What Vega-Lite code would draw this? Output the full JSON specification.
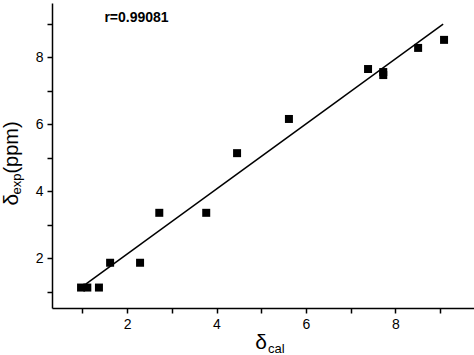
{
  "$schema": "https://vega.github.io/schema/vega-lite/v6.json",
  "width": 422,
  "height": 305,
  "autosize": {"type": "none"},
  "padding": {"left": 52, "top": 3, "right": 0, "bottom": 47},
  "background": "white",
  "config": {
    "view": {"stroke": null},
    "axis": {
      "domainColor": "black",
      "tickColor": "black",
      "labelColor": "black",
      "grid": false,
      "labelFont": "Liberation Sans",
      "labelFontSize": 14,
      "domainWidth": 1.5,
      "tickWidth": 1.5,
      "tickSize": 5,
      "labelPadding": 4,
      "labelFlush": false,
      "labelOverlap": false,
      "values": [1, 2, 3, 4, 5, 6, 7, 8, 9],
      "labelExpr": "datum.value == 2 || datum.value == 4 || datum.value == 6 || datum.value == 8 ? datum.label : ''",
      "title": null
    },
    "text": {"font": "Liberation Sans", "color": "black"}
  },
  "datasets": {
    "points": [
      {"cal": 0.97, "exp": 1.13},
      {"cal": 1.11, "exp": 1.13},
      {"cal": 1.37, "exp": 1.13},
      {"cal": 1.62, "exp": 1.87},
      {"cal": 2.29, "exp": 1.87},
      {"cal": 2.72, "exp": 3.36},
      {"cal": 3.77, "exp": 3.36},
      {"cal": 4.46, "exp": 5.14},
      {"cal": 5.62, "exp": 6.16},
      {"cal": 7.39, "exp": 7.65},
      {"cal": 7.73, "exp": 7.56},
      {"cal": 7.73, "exp": 7.47},
      {"cal": 8.51, "exp": 8.28},
      {"cal": 9.09, "exp": 8.52}
    ],
    "fit": [
      {"cal": 1.06, "exp": 1.22},
      {"cal": 9.07, "exp": 8.99}
    ]
  },
  "layer": [
    {
      "data": {"name": "fit"},
      "mark": {"type": "line", "color": "black", "strokeWidth": 1.5},
      "encoding": {
        "x": {
          "field": "cal",
          "type": "quantitative",
          "scale": {"domain": [0.32, 9.76], "nice": false, "zero": false}
        },
        "y": {
          "field": "exp",
          "type": "quantitative",
          "scale": {"domain": [0.52, 9.62], "nice": false, "zero": false}
        }
      }
    },
    {
      "data": {"name": "points"},
      "mark": {"type": "square", "size": 64, "color": "black", "opacity": 1},
      "encoding": {
        "x": {"field": "cal", "type": "quantitative"},
        "y": {"field": "exp", "type": "quantitative"}
      }
    },
    {
      "data": {"values": [{"label": "r=0.99081"}]},
      "mark": {"type": "text", "fontWeight": "bold", "fontSize": 14, "align": "center", "baseline": "middle"},
      "encoding": {
        "text": {"field": "label"},
        "x": {"datum": 2.21, "type": "quantitative"},
        "y": {"datum": 9.17, "type": "quantitative"}
      }
    },
    {
      "data": {"values": [{"label": "δ"}]},
      "mark": {"type": "text", "fontSize": 21, "align": "center", "baseline": "middle", "clip": false},
      "encoding": {
        "text": {"field": "label"},
        "x": {"datum": 5.0, "type": "quantitative"},
        "y": {"datum": -0.52, "type": "quantitative"}
      }
    },
    {
      "data": {"values": [{"label": "cal"}]},
      "mark": {"type": "text", "fontSize": 13, "align": "left", "baseline": "middle", "clip": false},
      "encoding": {
        "text": {"field": "label"},
        "x": {"datum": 5.15, "type": "quantitative"},
        "y": {"datum": -0.69, "type": "quantitative"}
      }
    },
    {
      "data": {"values": [{"label": "δ"}]},
      "mark": {"type": "text", "fontSize": 21, "align": "center", "baseline": "middle", "angle": 270, "clip": false},
      "encoding": {
        "text": {"field": "label"},
        "x": {"datum": -0.58, "type": "quantitative"},
        "y": {"datum": 3.75, "type": "quantitative"}
      }
    },
    {
      "data": {"values": [{"label": "exp"}]},
      "mark": {"type": "text", "fontSize": 13, "align": "center", "baseline": "middle", "angle": 270, "clip": false},
      "encoding": {
        "text": {"field": "label"},
        "x": {"datum": -0.47, "type": "quantitative"},
        "y": {"datum": 4.22, "type": "quantitative"}
      }
    },
    {
      "data": {"values": [{"label": "(ppm)"}]},
      "mark": {"type": "text", "fontSize": 20, "align": "center", "baseline": "middle", "angle": 270, "clip": false},
      "encoding": {
        "text": {"field": "label"},
        "x": {"datum": -0.58, "type": "quantitative"},
        "y": {"datum": 5.31, "type": "quantitative"}
      }
    }
  ]
}
